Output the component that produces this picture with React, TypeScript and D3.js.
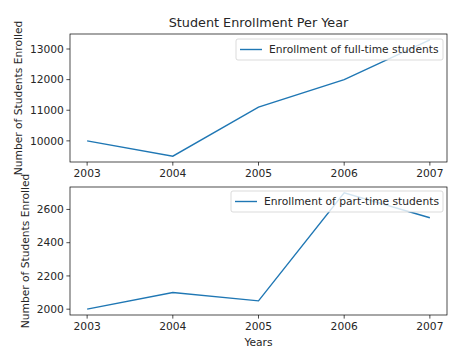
import React from "react";
import * as d3 from "d3";

const years = [2003, 2004, 2005, 2006, 2007];
const fullTime = [10000, 9500, 11100, 12000, 13300];
const partTime = [2000, 2100, 2050, 2700, 2550];
const fullTicks = [10000, 11000, 12000, 13000];
const partTicks = [2000, 2200, 2400, 2600];
const title = "Student Enrollment Per Year";
const yLabel = "Number of Students Enrolled";
const xLabel = "Years";
const fullName = "Enrollment of full-time students";
const partName = "Enrollment of part-time students";

const W = 474;
const H = 356;
const FONT = "DejaVu Sans, sans-serif";
const FS = 10.7;
const TEXT = "#262626";
const LINE = "#1f77b4";

function pad(ext: [number, number]): [number, number] {
  const d = (ext[1] - ext[0]) * 0.05;
  return [ext[0] - d, ext[1] + d];
}

type PanelProps = {
  top: number;
  bottom: number;
  values: number[];
  ticks: number[];
  name: string;
  labelX: number;
  legend: { x0: number; x1: number; y0: number; y1: number };
};

const L = 70;
const R = 447;

function Panel({ top, bottom, values, ticks, name, labelX, legend }: PanelProps) {
  const x = d3.scaleLinear().domain(pad(d3.extent(years) as [number, number])).range([L, R]);
  const y = d3.scaleLinear().domain(pad(d3.extent(values) as [number, number])).range([bottom, top]);
  const line = d3
    .line<number>()
    .x((_, i) => x(years[i]))
    .y((v) => y(v));
  const tl = 3.6;
  const ly = (legend.y0 + legend.y1) / 2;
  return (
    <g>
      <path d={line(values) || ""} fill="none" stroke={LINE} strokeWidth={1.4} />
      <rect x={L} y={top} width={R - L} height={bottom - top} fill="none" stroke="#000" strokeWidth={0.7} />
      {years.map((yr) => (
        <g key={yr}>
          <line x1={x(yr)} x2={x(yr)} y1={bottom} y2={bottom + tl} stroke="#000" strokeWidth={0.7} />
          <text x={x(yr)} y={bottom + tl + 11.5} textAnchor="middle" fontSize={FS} fontFamily={FONT} fill={TEXT}>
            {yr}
          </text>
        </g>
      ))}
      {ticks.map((t) => (
        <g key={t}>
          <line x1={L - tl} x2={L} y1={y(t)} y2={y(t)} stroke="#000" strokeWidth={0.7} />
          <text x={L - tl - 2.5} y={y(t)} dy="0.35em" textAnchor="end" fontSize={FS} fontFamily={FONT} fill={TEXT}>
            {t}
          </text>
        </g>
      ))}
      <text
        transform={`translate(${labelX},${(top + bottom) / 2}) rotate(-90)`}
        textAnchor="middle"
        dy="0.35em"
        fontSize={FS}
        fontFamily={FONT}
        fill={TEXT}
      >
        {yLabel}
      </text>
      <rect
        x={legend.x0}
        y={legend.y0}
        width={legend.x1 - legend.x0}
        height={legend.y1 - legend.y0}
        rx={2}
        fill="#fff"
        fillOpacity={0.8}
        stroke="#cccccc"
        strokeWidth={0.7}
      />
      <line x1={legend.x0 + 4} x2={legend.x0 + 26} y1={ly} y2={ly} stroke={LINE} strokeWidth={1.4} />
      <text x={legend.x0 + 33} y={ly} dy="0.35em" fontSize={FS} fontFamily={FONT} fill={TEXT}>
        {name}
      </text>
    </g>
  );
}

export default function App() {
  return (
    <svg
      width={W}
      height={H}
      style={{ position: "absolute", left: 0, top: 0, background: "#fff" }}
      xmlns="http://www.w3.org/2000/svg"
    >
      <rect width={W} height={H} fill="#fff" />
      <text x={(L + R) / 2} y={27} textAnchor="middle" fontSize={12.8} fontFamily={FONT} fill={TEXT}>
        {title}
      </text>
      <Panel
        top={34}
        bottom={162}
        values={fullTime}
        ticks={fullTicks}
        name={fullName}
        labelX={18}
        legend={{ x0: 236, x1: 443, y0: 39, y1: 60 }}
      />
      <Panel
        top={187}
        bottom={315}
        values={partTime}
        ticks={partTicks}
        name={partName}
        labelX={25}
        legend={{ x0: 231, x1: 443, y0: 191, y1: 212 }}
      />
      <text x={(L + R) / 2} y={346} textAnchor="middle" fontSize={FS} fontFamily={FONT} fill={TEXT}>
        {xLabel}
      </text>
    </svg>
  );
}
